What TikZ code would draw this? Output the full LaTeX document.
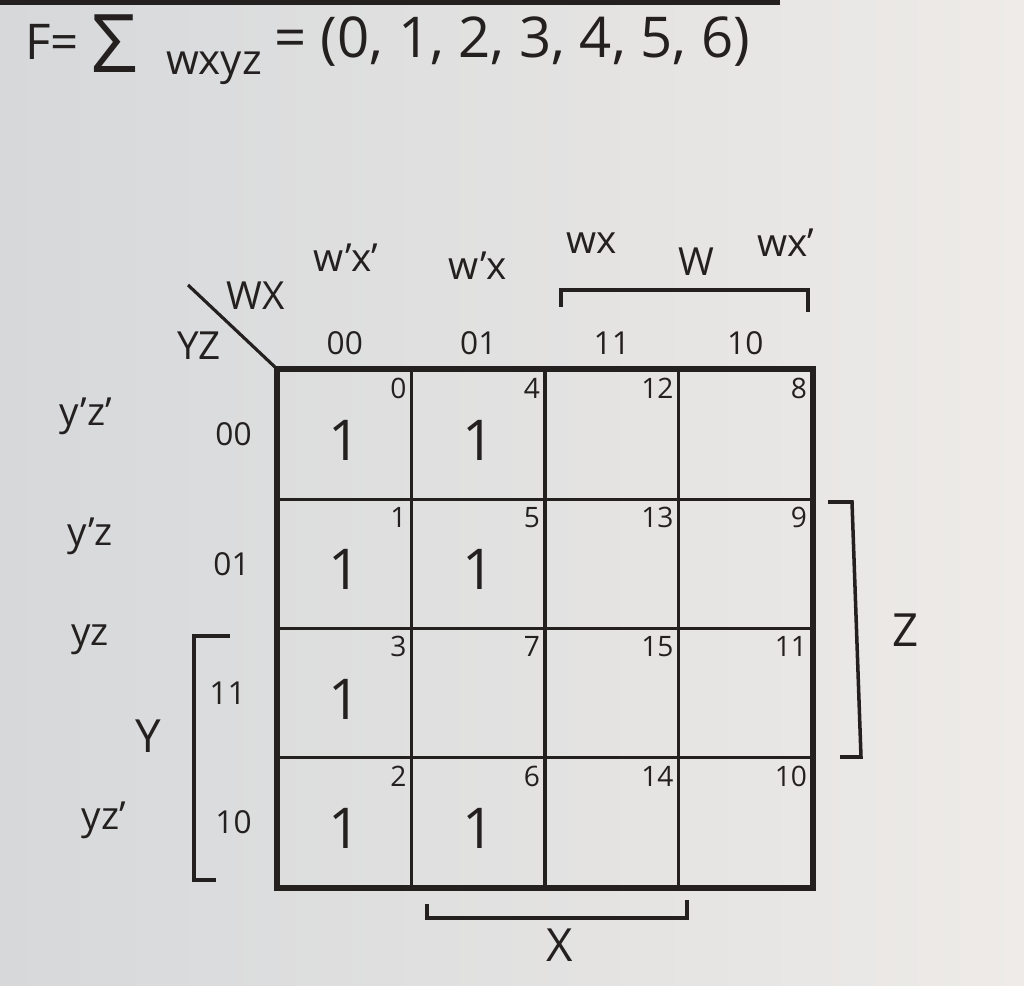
\documentclass[tikz,border=0pt]{standalone}
\usepackage{fontspec}
\setmainfont{Open Sans}
\usetikzlibrary{positioning}
\definecolor{paperl}{RGB}{214,216,218}
\definecolor{paperr}{RGB}{238,235,232}
\definecolor{ink}{RGB}{36,32,32}
\newcommand\kcell[5]{% name, column, row, minterm, entry
  \node[cell] (#1) at ({278+133.5*(#2+0.5)},{370+129.25*(#3+0.5)}) {};
  \node[num] (#1n) at ([shift={(-6,9)}]#1.north east) {#4};
  \node[one] (#1v) at ([shift={(0,6)}]#1.center) {#5};
}
\newcommand\fs[1]{\fontsize{#1}{#1}\selectfont}

\begin{document}
\begin{tikzpicture}[x=0.01cm,y=-0.01cm]
  \tikzset{
    cell/.style={draw=ink,line width=0.9pt,minimum width=1.335cm,minimum height=1.2925cm,inner sep=0pt},
    num/.style={anchor=north east,inner sep=0pt,text=ink,font=\fs{8}},
    one/.style={inner sep=0pt,text=ink,font=\fs{16}},
    hdr/.style={inner sep=0pt,text=ink,font=\fs{9}},
    lbl/.style={inner sep=0pt,text=ink,font=\fs{11}},
    var/.style={inner sep=0pt,text=ink,font=\fs{13}},
    brk/.style={draw=ink,line width=1pt},
  }
  \shade[left color=paperl,right color=paperr] (0,0) rectangle (1024,986);
  \useasboundingbox (0,0) rectangle (1024,986);
  \draw[ink,line width=2pt] (0,1) -- (780,1);

  % title
  \node[var,font=\fs{14}] (fe)  at (52,42)  {F=};
  \node[var,font=\fs{23}] (sig) at (114,44) {Σ};
  \node[var,font=\fs{12}] (sub) at (214,68) {wxyz};
  \node[var,font=\fs{16}] (set) at (512,42) {= (0, 1, 2, 3, 4, 5, 6)};

  % cells
  \kcell{m0}{0}{0}{0}{1}
  \kcell{m4}{1}{0}{4}{1}
  \kcell{m12}{2}{0}{12}{}
  \kcell{m8}{3}{0}{8}{}
  \kcell{m1}{0}{1}{1}{1}
  \kcell{m5}{1}{1}{5}{1}
  \kcell{m13}{2}{1}{13}{}
  \kcell{m9}{3}{1}{9}{}
  \kcell{m3}{0}{2}{3}{1}
  \kcell{m7}{1}{2}{7}{}
  \kcell{m15}{2}{2}{15}{}
  \kcell{m11}{3}{2}{11}{}
  \kcell{m2}{0}{3}{2}{1}
  \kcell{m6}{1}{3}{6}{1}
  \kcell{m14}{2}{3}{14}{}
  \kcell{m10}{3}{3}{10}{}
  \draw[ink,line width=1.2pt] (m0.north west) rectangle (m10.south east);

  % corner
  \coordinate (dg) at (188,285);
  \draw[ink,line width=0.9pt] (dg) -- (m0.north west);
  \node[lbl] (wx) at (256,296) {WX};
  \node[lbl] (yz) at (199,346) {YZ};

  % column and row codes
  \node[hdr] (c00) [above=0.13cm of m0]  {00};
  \node[hdr] (c01) [above=0.13cm of m4]  {01};
  \node[hdr] (c11) [above=0.13cm of m12] {11};
  \node[hdr] (c10) [above=0.13cm of m8]  {10};
  \node[hdr] (r00) [left=0.24cm of m0] {00};
  \node[hdr] (r01) [left=0.26cm of m1] {01};
  \node[hdr] (r11) [left=0.3cm of m3]  {11};
  \node[hdr] (r10) [left=0.24cm of m2] {10};

  % variable labels
  \node[lbl] (wpxp) at (346,258) {w'x'};
  \node[lbl] (wpx)  at (478,266) {w'x};
  \node[lbl] (wx1)  at (592,243) {wx};
  \node[lbl] (w)    at (696,262) {W};
  \node[lbl] (wxp)  at (786,243) {wx'};
  \node[lbl] (ypzp) at (86,416)  {y'z'};
  \node[lbl] (ypz)  at (90,536)  {y'z};
  \node[lbl] (yz1)  at (90,640)  {yz};
  \node[lbl] (yzp)  at (104,820) {yz'};
  \node[var] (y)    at (148,736) {Y};
  \node[var] (z)    at (906,630) {Z};
  \node[var] (x)    at (560,945) {X};

  % brackets
  \coordinate (tbl) at (561,307);
  \coordinate (tbr) at (808,312);
  \draw[brk] (tbl) -- ++(0,-17) -| (tbr);
  \coordinate (lbt) at (230,636);
  \coordinate (lbb) at (216,880);
  \draw[brk] (lbt) -- ++(-36,0) |- (lbb);
  \coordinate (rbt) at (828,502);
  \coordinate (rbb) at (840,757);
  \draw[brk] (rbt) -- ++(24,0) -- ++(9,255) -- (rbb);
  \coordinate (bbl) at (427,904);
  \coordinate (bbr) at (687,900);
  \draw[brk] (bbl) -- ++(0,14) -| (bbr);
\end{tikzpicture}
\end{document}
